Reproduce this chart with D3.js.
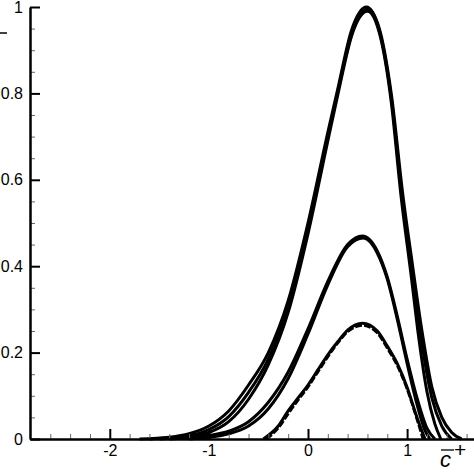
<!DOCTYPE html>
<html>
<head>
<meta charset="utf-8">
<script src="https://cdn.jsdelivr.net/npm/d3@7"></script>
<style>
  body { margin: 0; background: #fff; }
  #chart { width: 474px; height: 474px; }
  text { font-family: "Liberation Sans", Arial, sans-serif; }
</style>
</head>
<body>
<div id="chart"></div>
<script>
// tick values
const xMajor = [-2, -1, 0, 1];
const xMinor = [-2.6, -2.4, -2.2, -1.8, -1.6, -1.4, -1.2, -0.8, -0.6, -0.4, -0.2,
  0.2, 0.4, 0.6, 0.8, 1.2, 1.4, 1.6];
const yMajor = [0, 0.2, 0.4, 0.6, 0.8, 1];
const yMinor = [0.05, 0.1, 0.15, 0.25, 0.3, 0.35, 0.45, 0.5, 0.55, 0.65, 0.7, 0.75, 0.85, 0.9, 0.95];

// big peak family (~1.0)
const curveA1 = [[-1.7, 0], [-1.4, 0.004], [-1.2, 0.012], [-1.0, 0.03], [-0.8, 0.065], [-0.6, 0.125],
  [-0.4, 0.2], [-0.2, 0.32], [0, 0.5], [0.2, 0.71], [0.3, 0.81], [0.44, 0.947], [0.59, 1.0],
  [0.72, 0.95], [0.84, 0.8], [0.96, 0.56], [1.05, 0.41], [1.15, 0.25], [1.25, 0.12],
  [1.35, 0.05], [1.45, 0.015], [1.55, 0]];
const curveA2 = [[-1.6, 0], [-1.3, 0.005], [-1.1, 0.013], [-1.0, 0.022], [-0.8, 0.052], [-0.6, 0.108],
  [-0.4, 0.185], [-0.2, 0.305], [0, 0.487], [0.2, 0.7], [0.3, 0.803], [0.45, 0.945], [0.6, 0.995],
  [0.72, 0.945], [0.84, 0.79], [0.95, 0.56], [1.05, 0.39], [1.15, 0.22], [1.25, 0.095],
  [1.35, 0.03], [1.45, 0]];
const curveA3 = [[-1.5, 0], [-1.2, 0.005], [-1.0, 0.015], [-0.8, 0.04], [-0.6, 0.092],
  [-0.4, 0.172], [-0.2, 0.293], [0, 0.475], [0.2, 0.69], [0.3, 0.796], [0.45, 0.94], [0.6, 0.99],
  [0.72, 0.94], [0.84, 0.78], [0.94, 0.56], [1.04, 0.38], [1.12, 0.23], [1.2, 0.11],
  [1.28, 0.035], [1.34, 0]];

// middle family (~0.47)
const curveB1 = [[-1.4, 0], [-1.0, 0.008], [-0.8, 0.018], [-0.6, 0.04], [-0.4, 0.085], [-0.2, 0.155],
  [0, 0.255], [0.2, 0.365], [0.4, 0.45], [0.55, 0.47], [0.7, 0.435], [0.8, 0.375], [0.9, 0.285],
  [1.0, 0.185], [1.1, 0.095], [1.2, 0.025], [1.28, 0]];
const curveB2 = [[-1.2, 0], [-1.0, 0.004], [-0.8, 0.012], [-0.6, 0.03], [-0.4, 0.07], [-0.2, 0.14],
  [0, 0.243], [0.2, 0.357], [0.4, 0.445], [0.56, 0.465], [0.7, 0.43], [0.8, 0.37], [0.9, 0.278],
  [1.0, 0.175], [1.1, 0.08], [1.18, 0.02], [1.23, 0]];

// small family (~0.27)
const curveC1 = [[-0.45, 0], [-0.3, 0.03], [-0.2, 0.065], [-0.1, 0.095], [0, 0.125], [0.1, 0.16],
  [0.2, 0.195], [0.3, 0.225], [0.4, 0.252], [0.55, 0.268], [0.7, 0.25], [0.8, 0.215],
  [0.9, 0.175], [1.0, 0.12], [1.1, 0.05], [1.18, 0]];
const curveC2 = [[-0.42, 0], [-0.3, 0.025], [-0.2, 0.058], [-0.1, 0.09], [0, 0.12], [0.1, 0.155],
  [0.2, 0.19], [0.3, 0.222], [0.4, 0.248], [0.55, 0.263], [0.7, 0.245], [0.8, 0.21],
  [0.9, 0.17], [1.0, 0.115], [1.1, 0.045], [1.16, 0]];

const curves = [curveA1, curveA2, curveA3, curveB1, curveB2, curveC1];

const width = 474, height = 474;
const margin = { top: 7, right: 0, bottom: 35, left: 30 };

const svg = d3.select("#chart").append("svg")
  .attr("width", width).attr("height", height);

const x = d3.scaleLinear().domain([-2.805, 1.675]).range([margin.left, width - margin.right]);
const y = d3.scaleLinear().domain([0, 1]).range([height - margin.bottom, margin.top]);

const line = d3.line()
  .x((d) => x(d[0]))
  .y((d) => y(d[1]))
  .curve(d3.curveMonotoneX);

// curves
svg.append("g")
  .selectAll("path")
  .data(curves)
  .join("path")
  .attr("fill", "none")
  .attr("stroke", "#000")
  .attr("stroke-width", 3)
  .attr("d", line);

svg.append("path")
  .datum(curveC2)
  .attr("fill", "none")
  .attr("stroke", "#000")
  .attr("stroke-width", 2.6)
  .attr("stroke-dasharray", "7,2")
  .attr("d", line);

// minor ticks
svg.append("g")
  .attr("transform", `translate(0,${y(0)})`)
  .call(d3.axisBottom(x).tickValues(xMinor).tickSize(-5).tickFormat(""))
  .call((g) => g.select(".domain").remove())
  .call((g) => g.selectAll("line").attr("stroke", "#666").attr("stroke-width", 1));

svg.append("g")
  .attr("transform", `translate(${x.range()[0]},0)`)
  .call(d3.axisLeft(y).tickValues(yMinor).tickSize(-5).tickFormat(""))
  .call((g) => g.select(".domain").remove())
  .call((g) => g.selectAll("line").attr("stroke", "#666").attr("stroke-width", 1));

// major axes
const xAxis = svg.append("g")
  .attr("transform", `translate(0,${y(0)})`)
  .call(d3.axisBottom(x).tickValues(xMajor).tickSize(-10).tickSizeOuter(0).tickPadding(6)
    .tickFormat((d) => d));
xAxis.select(".domain").attr("stroke-width", 2.5);
xAxis.selectAll("line").attr("stroke-width", 2);
xAxis.selectAll("text").attr("font-size", 16).attr("fill", "#000");

const yAxis = svg.append("g")
  .attr("transform", `translate(${x.range()[0]},0)`)
  .call(d3.axisLeft(y).tickValues(yMajor).tickSize(-10).tickSizeOuter(0).tickPadding(7)
    .tickFormat((d) => d));
yAxis.select(".domain").attr("stroke-width", 2.5);
yAxis.selectAll("line").attr("stroke-width", 2);
yAxis.selectAll("text").attr("font-size", 16).attr("fill", "#000");

// cut-off y title remnant
svg.append("line")
  .attr("x1", 0).attr("x2", 7).attr("y1", 33).attr("y2", 33)
  .attr("stroke", "#000").attr("stroke-width", 1.5);

// x title: c-bar plus
const xt = svg.append("g").attr("transform", "translate(440,467)");
xt.append("text")
  .attr("font-family", "'DejaVu Serif', 'Liberation Serif', serif")
  .attr("font-style", "italic")
  .attr("font-size", 22)
  .text("c");
xt.append("line")
  .attr("x1", 1).attr("x2", 14).attr("y1", -17).attr("y2", -17)
  .attr("stroke", "#000").attr("stroke-width", 1.3);
xt.append("text")
  .attr("x", 14).attr("y", -10)
  .attr("font-family", "'Liberation Serif', serif")
  .attr("font-size", 21)
  .text("+");
</script>
</body>
</html>
